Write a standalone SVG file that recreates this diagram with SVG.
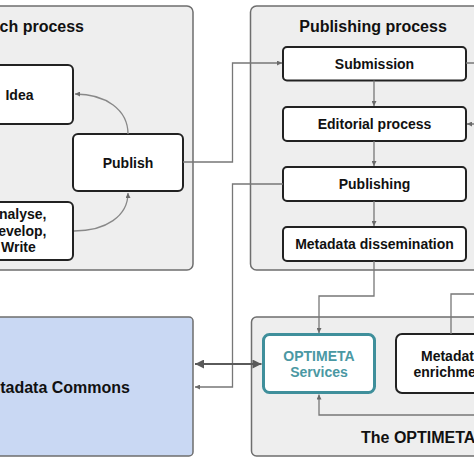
<svg xmlns="http://www.w3.org/2000/svg" width="474" height="474" viewBox="0 0 474 474">
  <style>
    .panel { fill: #eeeeee; stroke: #6e6e6e; stroke-width: 1.5; }
    .box { fill: #ffffff; stroke: #222222; stroke-width: 2; }
    .title { font-family: "Liberation Sans", Arial, sans-serif; font-weight: bold; font-size: 16px; fill: #111111; }
    .lbl { font-family: "Liberation Sans", Arial, sans-serif; font-weight: bold; font-size: 14px; fill: #111111; text-anchor: middle; }
    .lbl.end { text-anchor: end; }
    .lbl.start { text-anchor: start; }
    .teal { fill: #4a98a3; }
    .conn { fill: none; stroke: #777777; stroke-width: 1.3; }
    .curve { fill: none; stroke: #888888; stroke-width: 1.3; }
    .both { fill: none; stroke: #5a5a5a; stroke-width: 2.2; }
  </style>
  <defs>
    <marker id="arr" viewBox="0 0 10 10" refX="10" refY="5" markerWidth="5" markerHeight="5" markerUnits="userSpaceOnUse" orient="auto">
      <path d="M0,0 L10,5 L0,10 z" fill="#6a6a6a"/>
    </marker>
    <marker id="big" viewBox="0 0 10 10" refX="10" refY="5" markerWidth="10" markerHeight="9" markerUnits="userSpaceOnUse" orient="auto-start-reverse">
      <path d="M0,0 L10,5 L0,10 z" fill="#5a5a5a"/>
    </marker>
  </defs>

  <!-- Research process panel -->
  <g id="research-panel">
    <rect class="panel" x="-180" y="6" width="373" height="264" rx="6"/>
    <text class="title" x="84" y="32" text-anchor="end">ch process</text>
  </g>
  <g id="idea">
    <rect class="box" x="-34" y="65" width="107" height="59" rx="5"/>
    <text class="lbl" x="19.5" y="100">Idea</text>
  </g>
  <g id="publish">
    <rect class="box" x="73" y="134" width="110" height="57" rx="5"/>
    <text class="lbl" x="128" y="167.5">Publish</text>
  </g>
  <g id="analyse">
    <rect class="box" x="-36" y="202" width="109" height="58" rx="5"/>
    <text class="lbl end" x="46.5" y="219">nalyse,</text>
    <text class="lbl end" x="46.5" y="235.5">evelop,</text>
    <text class="lbl start" x="1" y="252">Write</text>
  </g>

  <!-- Publishing process panel -->
  <g id="publishing-panel">
    <rect class="panel" x="250.5" y="6" width="250" height="264" rx="6"/>
    <text class="title" x="373" y="32" text-anchor="middle">Publishing process</text>
  </g>
  <g id="submission">
    <rect class="box" x="283" y="47" width="183" height="33.5" rx="4"/>
    <text class="lbl" x="374.5" y="68.5">Submission</text>
  </g>
  <g id="editorial">
    <rect class="box" x="283" y="107" width="183" height="34" rx="4"/>
    <text class="lbl" x="374.5" y="129">Editorial process</text>
  </g>
  <g id="publishing">
    <rect class="box" x="283" y="167" width="183" height="34" rx="4"/>
    <text class="lbl" x="374.5" y="189">Publishing</text>
  </g>
  <g id="dissemination">
    <rect class="box" x="283" y="227" width="183" height="34" rx="4"/>
    <text class="lbl" x="374.5" y="249">Metadata dissemination</text>
  </g>

  <!-- Metadata Commons -->
  <g id="commons">
    <rect x="-90" y="317" width="283" height="139" rx="4" fill="#c9d8f3" stroke="#6e6e6e" stroke-width="1.5"/>
    <text class="title" x="130" y="393" text-anchor="end">tadata Commons</text>
  </g>

  <!-- OPTIMETA panel -->
  <g id="optimeta-panel">
    <rect class="panel" x="251.5" y="317" width="260" height="139" rx="5"/>
    <text class="title" x="361" y="443">The OPTIMETA</text>
  </g>
  <g id="services">
    <rect x="263.5" y="334.5" width="111" height="58" rx="6" fill="#ffffff" stroke="#3f8f9b" stroke-width="3"/>
    <text class="lbl teal" x="319" y="361">OPTIMETA</text>
    <text class="lbl teal" x="319" y="377">Services</text>
  </g>
  <g id="enrichment">
    <rect class="box" x="396" y="334" width="110" height="59" rx="6"/>
    <text class="lbl start" x="421" y="361">Metadat</text>
    <text class="lbl start" x="413.5" y="377">enrichme</text>
  </g>

  <!-- Connectors -->
  <g id="connectors">
    <path class="curve" d="M128,134 C128,110 106,94 75,94" marker-end="url(#arr)"/>
    <path class="curve" d="M74,231 C106,231 128,216 128,193" marker-end="url(#arr)"/>
    <path class="conn" d="M183,162 H232.5 V63 H282" marker-end="url(#arr)"/>
    <path class="conn" d="M374,80.5 V106" marker-end="url(#arr)"/>
    <path class="conn" d="M374,141 V166" marker-end="url(#arr)"/>
    <path class="conn" d="M374,201 V226" marker-end="url(#arr)"/>
    <path class="conn" d="M466,63 H482 V124 H467" marker-end="url(#arr)"/>
    <path class="conn" d="M283,184 H232.5 V387 H195" marker-end="url(#arr)"/>
    <path class="conn" d="M374,261 V296 H319 V333" marker-end="url(#arr)"/>
    <path class="conn" d="M482,294 H451 V334"/>
    <path class="conn" d="M482,415 H319 V394.5" marker-end="url(#arr)"/>
    <path class="both" d="M195,364 H261.5" marker-start="url(#big)" marker-end="url(#big)"/>
  </g>
</svg>
